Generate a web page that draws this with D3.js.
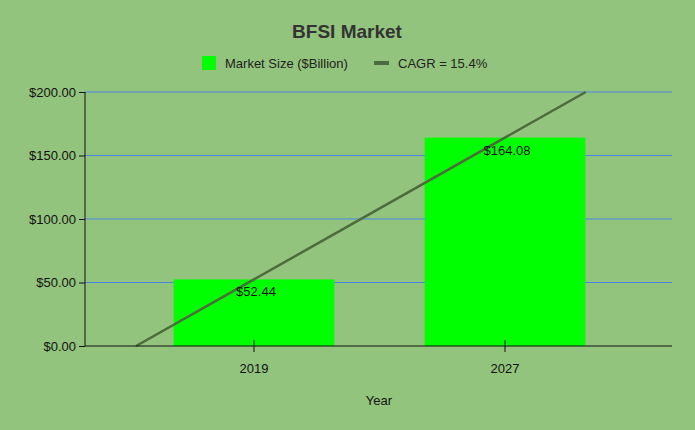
<!DOCTYPE html>
<html><head><meta charset="utf-8">
<script src="https://cdn.jsdelivr.net/npm/d3@7"></script>
<style>body{margin:0;background:#93c47d;font-family:Arial,"Liberation Sans",sans-serif}</style>
</head><body><div id="vis"></div>
<script>
var years = ['2019', '2027'];
var marketSize = [52.44, 164.08];
var yTicks = [0, 50, 100, 150, 200];

var w = 695, h = 430;
var svg = d3.select('#vis').append('svg').attr('width', w).attr('height', h);
svg.append('rect').attr('width', w).attr('height', h).attr('fill', '#93c47d');

var x = d3.scaleBand().domain(years).range([128.5, 630.5])
  .paddingInner(0.36).paddingOuter(0.18);
var y = d3.scaleLinear().domain([0, 200]).range([346, 92]);

// gridlines
svg.selectAll('.grid').data(yTicks.slice(1)).enter().append('line')
  .attr('x1', 85).attr('x2', 672)
  .attr('y1', function(d) { return y(d); }).attr('y2', function(d) { return y(d); })
  .style('stroke', '#4a86e8').style('stroke-width', 1);

// bars
svg.selectAll('.bar').data(marketSize).enter().append('rect')
  .attr('x', function(d, i) { return x(years[i]); })
  .attr('width', x.bandwidth())
  .attr('y', function(d) { return y(d); })
  .attr('height', function(d) { return y(0) - y(d); })
  .style('fill', '#00ff00');

// CAGR line, extended through both points
var cx = function(i) { return x(years[i]) + x.bandwidth() / 2; };
var slope = (cx(1) - cx(0)) / (marketSize[1] - marketSize[0]);
var xAt = function(v) { return cx(0) + (v - marketSize[0]) * slope; };
svg.append('line')
  .attr('x1', xAt(0)).attr('y1', y(0))
  .attr('x2', xAt(200)).attr('y2', y(200))
  .style('stroke', '#4d6b3c').style('stroke-width', 2.5);

// value labels
svg.selectAll('.lbl').data(marketSize).enter().append('text')
  .attr('x', function(d, i) { return cx(i) + 2; })
  .attr('y', function(d) { return y(d) + 17; })
  .attr('text-anchor', 'middle').style('font-size', '13px').style('fill', '#111')
  .text(function(d) { return '$' + d.toFixed(2); });

// axes
var yAxis = d3.axisLeft(y).tickValues(yTicks).tickSize(6)
  .tickFormat(function(d) { return '$' + d3.format(',.2f')(d); });
var gy = svg.append('g').attr('transform', 'translate(85,0)').call(yAxis);
gy.selectAll('text').style('font-size', '13px').style('fill', '#111');
gy.select('.domain').attr('d', 'M0,92V346');

var gx = svg.append('g').attr('transform', 'translate(0,346)')
  .call(d3.axisBottom(x).tickSize(-8).tickPadding(18).tickSizeOuter(0));
gx.select('.domain').attr('d', 'M85,0H672');
gx.selectAll('.tick line').attr('y1', 6).attr('y2', -6);
gx.selectAll('text').style('font-size', '13px').style('fill', '#111');
svg.selectAll('.domain, .tick line').style('stroke', '#111');

svg.append('text').attr('x', 379).attr('y', 405).attr('text-anchor', 'middle')
  .style('font-size', '13px').style('fill', '#111').text('Year');

svg.append('text').attr('x', 347).attr('y', 38).attr('text-anchor', 'middle')
  .style('font-size', '19px').style('font-weight', 'bold').style('fill', '#333').text('BFSI Market');

// legend
svg.append('rect').attr('x', 202).attr('y', 56).attr('width', 14).attr('height', 14).style('fill', '#00ff00');
svg.append('text').attr('x', 225).attr('y', 68).style('font-size', '13px').style('fill', '#222').text('Market Size ($Billion)');
svg.append('line').attr('x1', 374).attr('x2', 389).attr('y1', 63).attr('y2', 63)
  .style('stroke', '#4d6b3c').style('stroke-width', 4);
svg.append('text').attr('x', 398).attr('y', 68).style('font-size', '13px').style('fill', '#222').text('CAGR = 15.4%');
</script></body></html>
